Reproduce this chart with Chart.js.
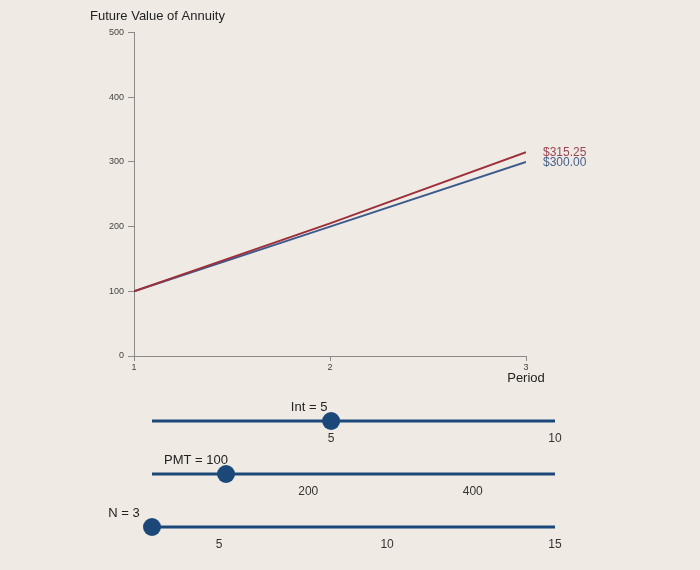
<!DOCTYPE html>
<html>
<head>
<meta charset="utf-8">
<script src="https://cdn.jsdelivr.net/npm/chart.js@4.4.1/dist/chart.umd.min.js"></script>
<style>
  body { margin: 0; background: #efebe4; font-family: "Liberation Sans", Arial, sans-serif; }
  #wrap { position: relative; width: 700px; height: 570px; overflow: hidden; }
  canvas { position: absolute; left: 0; }
</style>
</head>
<body>
<div id="wrap">
  <canvas id="fv" width="700" height="390" style="top:0"></canvas>
  <canvas id="s-int" width="700" height="70" style="top:391px"></canvas>
  <canvas id="s-pmt" width="700" height="70" style="top:444px"></canvas>
  <canvas id="s-n" width="700" height="70" style="top:497px"></canvas>
</div>
<script>
// data for the chart
const periods = [1, 2, 3];
const fvCompound = [100, 205, 315.25];
const fvSimple = [100, 200, 300];
const yTicks = [0, 100, 200, 300, 400, 500];

// slider values
const intRange = [1, 10];
const intTicks = [5, 10];
const intValue = 5;
const pmtRange = [10, 500];
const pmtTicks = [200, 400];
const pmtValue = 100;
const nRange = [3, 15];
const nTicks = [5, 10, 15];
const nValue = 3;

const FONT = '"Liberation Sans", Arial, sans-serif';
const red = '#9e2f3b';
const blue = '#3c5a8c';
const knobColor = '#1b4878';

Chart.defaults.font.family = FONT;
Chart.defaults.animation = false;

function pts(ys) {
  return periods.map((p, i) => ({ x: p, y: ys[i] }));
}

// end labels + axis name
const fvLabels = {
  id: 'fvLabels',
  afterDraw(chart) {
    const ctx = chart.ctx;
    ctx.save();
    ctx.font = '12px ' + FONT;
    ctx.textAlign = 'left';
    ctx.textBaseline = 'middle';
    chart.data.datasets.forEach((ds, i) => {
      const meta = chart.getDatasetMeta(i);
      const pt = meta.data[meta.data.length - 1];
      const v = ds.data[ds.data.length - 1].y;
      ctx.fillStyle = ds.labelColor;
      ctx.fillText('$' + v.toFixed(2), pt.x + 17, pt.y + 1);
    });
    const xs = chart.scales.x;
    ctx.font = '13px ' + FONT;
    ctx.fillStyle = '#222';
    ctx.textAlign = 'center';
    ctx.fillText('Period', xs.getPixelForValue(periods[periods.length - 1]), chart.chartArea.bottom + 22);
    ctx.restore();
  }
};

new Chart(document.getElementById('fv'), {
  type: 'line',
  data: {
    datasets: [
      { data: pts(fvCompound), borderColor: red, borderWidth: 2, pointRadius: 0, labelColor: '#9a4553' },
      { data: pts(fvSimple), borderColor: blue, borderWidth: 2, pointRadius: 0, labelColor: '#46608a' }
    ]
  },
  options: {
    responsive: false,
    devicePixelRatio: 1,
    layout: { padding: { left: 90, right: 174, top: 0, bottom: 0 } },
    plugins: {
      legend: { display: false },
      tooltip: { enabled: false },
      title: {
        display: true,
        text: 'Future Value of Annuity',
        align: 'start',
        color: '#222',
        font: { size: 13, weight: 'normal' },
        padding: { top: 9, bottom: 8 }
      }
    },
    scales: {
      x: {
        type: 'linear',
        min: periods[0],
        max: periods[periods.length - 1],
        afterBuildTicks: s => { s.ticks = periods.map(v => ({ value: v })); },
        afterFit: s => { s.height = 34; },
        grid: { drawOnChartArea: false, tickLength: 5, color: '#8a8a8a' },
        border: { color: '#8a8a8a' },
        ticks: { color: '#444', font: { size: 9 }, padding: 1 }
      },
      y: {
        min: 0,
        max: 500,
        afterBuildTicks: s => { s.ticks = yTicks.map(v => ({ value: v })); },
        afterFit: s => { s.width = 44; },
        grid: { drawOnChartArea: false, tickLength: 6, color: '#8a8a8a' },
        border: { color: '#8a8a8a' },
        ticks: { color: '#444', font: { size: 9 }, padding: 4 }
      }
    }
  },
  plugins: [fvLabels]
});

// sliders, each one a small chart
const sliderLabel = {
  id: 'sliderLabel',
  afterDraw(chart) {
    const o = chart.options.plugins.sliderLabel;
    const p = chart.getDatasetMeta(1).data[0];
    const ctx = chart.ctx;
    ctx.save();
    ctx.font = '13px ' + FONT;
    ctx.fillStyle = '#222';
    ctx.textAlign = 'center';
    ctx.textBaseline = 'middle';
    ctx.fillText(o.text, p.x + o.dx, p.y - 14);
    ctx.restore();
  }
};

function slider(id, name, range, ticks, value, dx) {
  new Chart(document.getElementById(id), {
    type: 'line',
    data: {
      datasets: [
        { data: [{ x: range[0], y: 0 }, { x: range[1], y: 0 }], borderColor: knobColor, borderWidth: 3, pointRadius: 0, clip: false },
        { data: [{ x: value, y: 0 }], showLine: false, pointRadius: 9, pointBackgroundColor: knobColor, pointBorderWidth: 0, clip: false }
      ]
    },
    options: {
      responsive: false,
      devicePixelRatio: 1,
      layout: { padding: { left: 152, right: 145, top: 20, bottom: 0 } },
      plugins: {
        legend: { display: false },
        tooltip: { enabled: false },
        sliderLabel: { text: name + ' = ' + value, dx: dx }
      },
      scales: {
        x: {
          type: 'linear',
          min: range[0],
          max: range[1],
          afterBuildTicks: s => { s.ticks = ticks.map(v => ({ value: v })); },
          afterFit: s => { s.height = 30; },
          grid: { display: false },
          border: { display: false },
          ticks: { color: '#333', font: { size: 12 }, padding: -8 }
        },
        y: { display: false, min: -1, max: 1 }
      }
    },
    plugins: [sliderLabel]
  });
}

slider('s-int', 'Int', intRange, intTicks, intValue, -22);
slider('s-pmt', 'PMT', pmtRange, pmtTicks, pmtValue, -30);
slider('s-n', 'N', nRange, nTicks, nValue, -28);
</script>
</body>
</html>
